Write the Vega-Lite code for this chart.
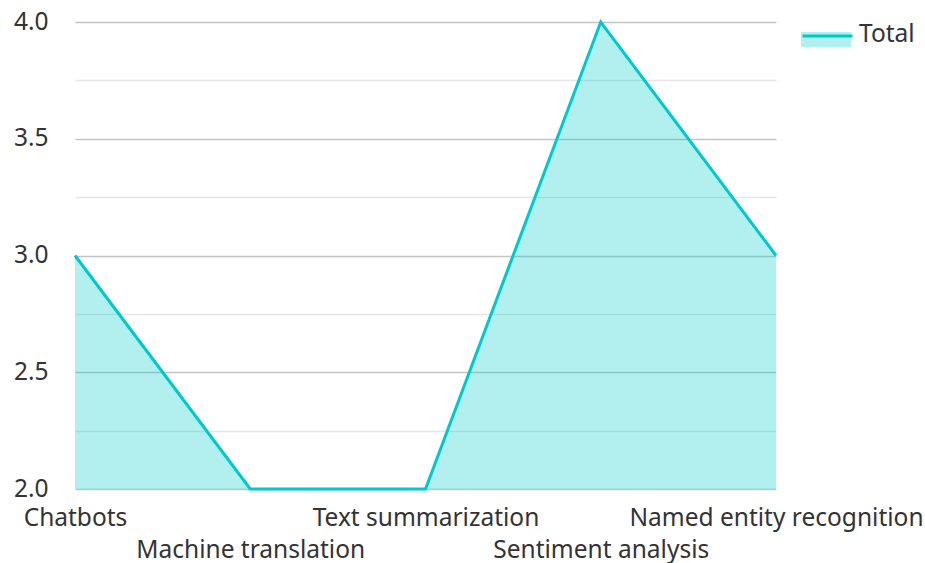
{
  "$schema": "https://vega.github.io/schema/vega-lite/v6.json",
  "width": 701,
  "height": 467,
  "autosize": {"type": "none"},
  "padding": {"left": 75, "top": 22, "right": 149, "bottom": 74},
  "background": "#ffffff",
  "config": {
    "font": "Noto Sans",
    "view": {"stroke": null},
    "legend": {"padding": 0}
  },
  "data": {
    "values": [
      {"task": "Chatbots", "value": 3, "series": "Total"},
      {"task": "Machine translation", "value": 2, "series": "Total"},
      {"task": "Text summarization", "value": 2, "series": "Total"},
      {"task": "Sentiment analysis", "value": 4, "series": "Total"},
      {"task": "Named entity recognition", "value": 3, "series": "Total"}
    ]
  },
  "encoding": {
    "x": {
      "field": "task",
      "type": "nominal",
      "sort": null,
      "scale": {"type": "point", "padding": 0},
      "axis": {
        "title": null,
        "grid": false,
        "ticks": false,
        "domain": false,
        "labelAngle": 0,
        "labelFontSize": 24.5,
        "labelColor": "#333333",
        "labelLimit": 0,
        "labelPadding": {"condition": {"test": "datum.value == 'Machine translation' || datum.value == 'Sentiment analysis'", "value": 49}, "value": 17},
        "labelOverlap": false,
        "labelBound": false
      }
    },
    "y": {
      "field": "value",
      "type": "quantitative",
      "scale": {"domain": [2, 4], "zero": false, "nice": false},
      "axis": {
        "title": null,
        "values": [2, 2.25, 2.5, 2.75, 3, 3.25, 3.5, 3.75, 4],
        "labelExpr": "(datum.value * 2) % 1 == 0 ? format(datum.value, '.1f') : ''",
        "ticks": false,
        "domain": false,
        "labelFontSize": 24.5,
        "labelColor": "#333333",
        "labelPadding": 27,
        "gridColor": {"condition": {"test": "(datum.value * 2) % 1 == 0", "value": "#c4c4c4"}, "value": "#e6e6e6"},
        "gridWidth": 1.5
      }
    }
  },
  "layer": [
    {
      "mark": {"type": "area", "opacity": 0.3, "clip": true},
      "encoding": {
        "fill": {
          "field": "series",
          "type": "nominal",
          "scale": {"range": ["#00c9c9"]},
          "legend": {
            "title": null,
            "orient": "none",
            "legendX": 726,
            "legendY": -12.5,
            "symbolType": "M-1,-0.1H1V0.5H-1Z",
            "symbolSize": 2500,
            "symbolOpacity": 0.3,
            "symbolStrokeWidth": 0,
            "labelFontSize": 24.5,
            "labelColor": "#333333",
            "labelOffset": 8
          }
        }
      }
    },
    {
      "mark": {"type": "line", "strokeWidth": 3},
      "encoding": {
        "stroke": {
          "field": "series",
          "type": "nominal",
          "scale": {"range": ["#00c9c9"]},
          "legend": {
            "title": null,
            "orient": "none",
            "legendX": 726,
            "legendY": -12.5,
            "symbolType": "M-1,0H1",
            "symbolSize": 2500,
            "symbolStrokeWidth": 3,
            "symbolFillColor": "transparent",
            "labelExpr": "''",
            "labelFontSize": 24.5,
            "labelOffset": 8
          }
        }
      }
    }
  ]
}
